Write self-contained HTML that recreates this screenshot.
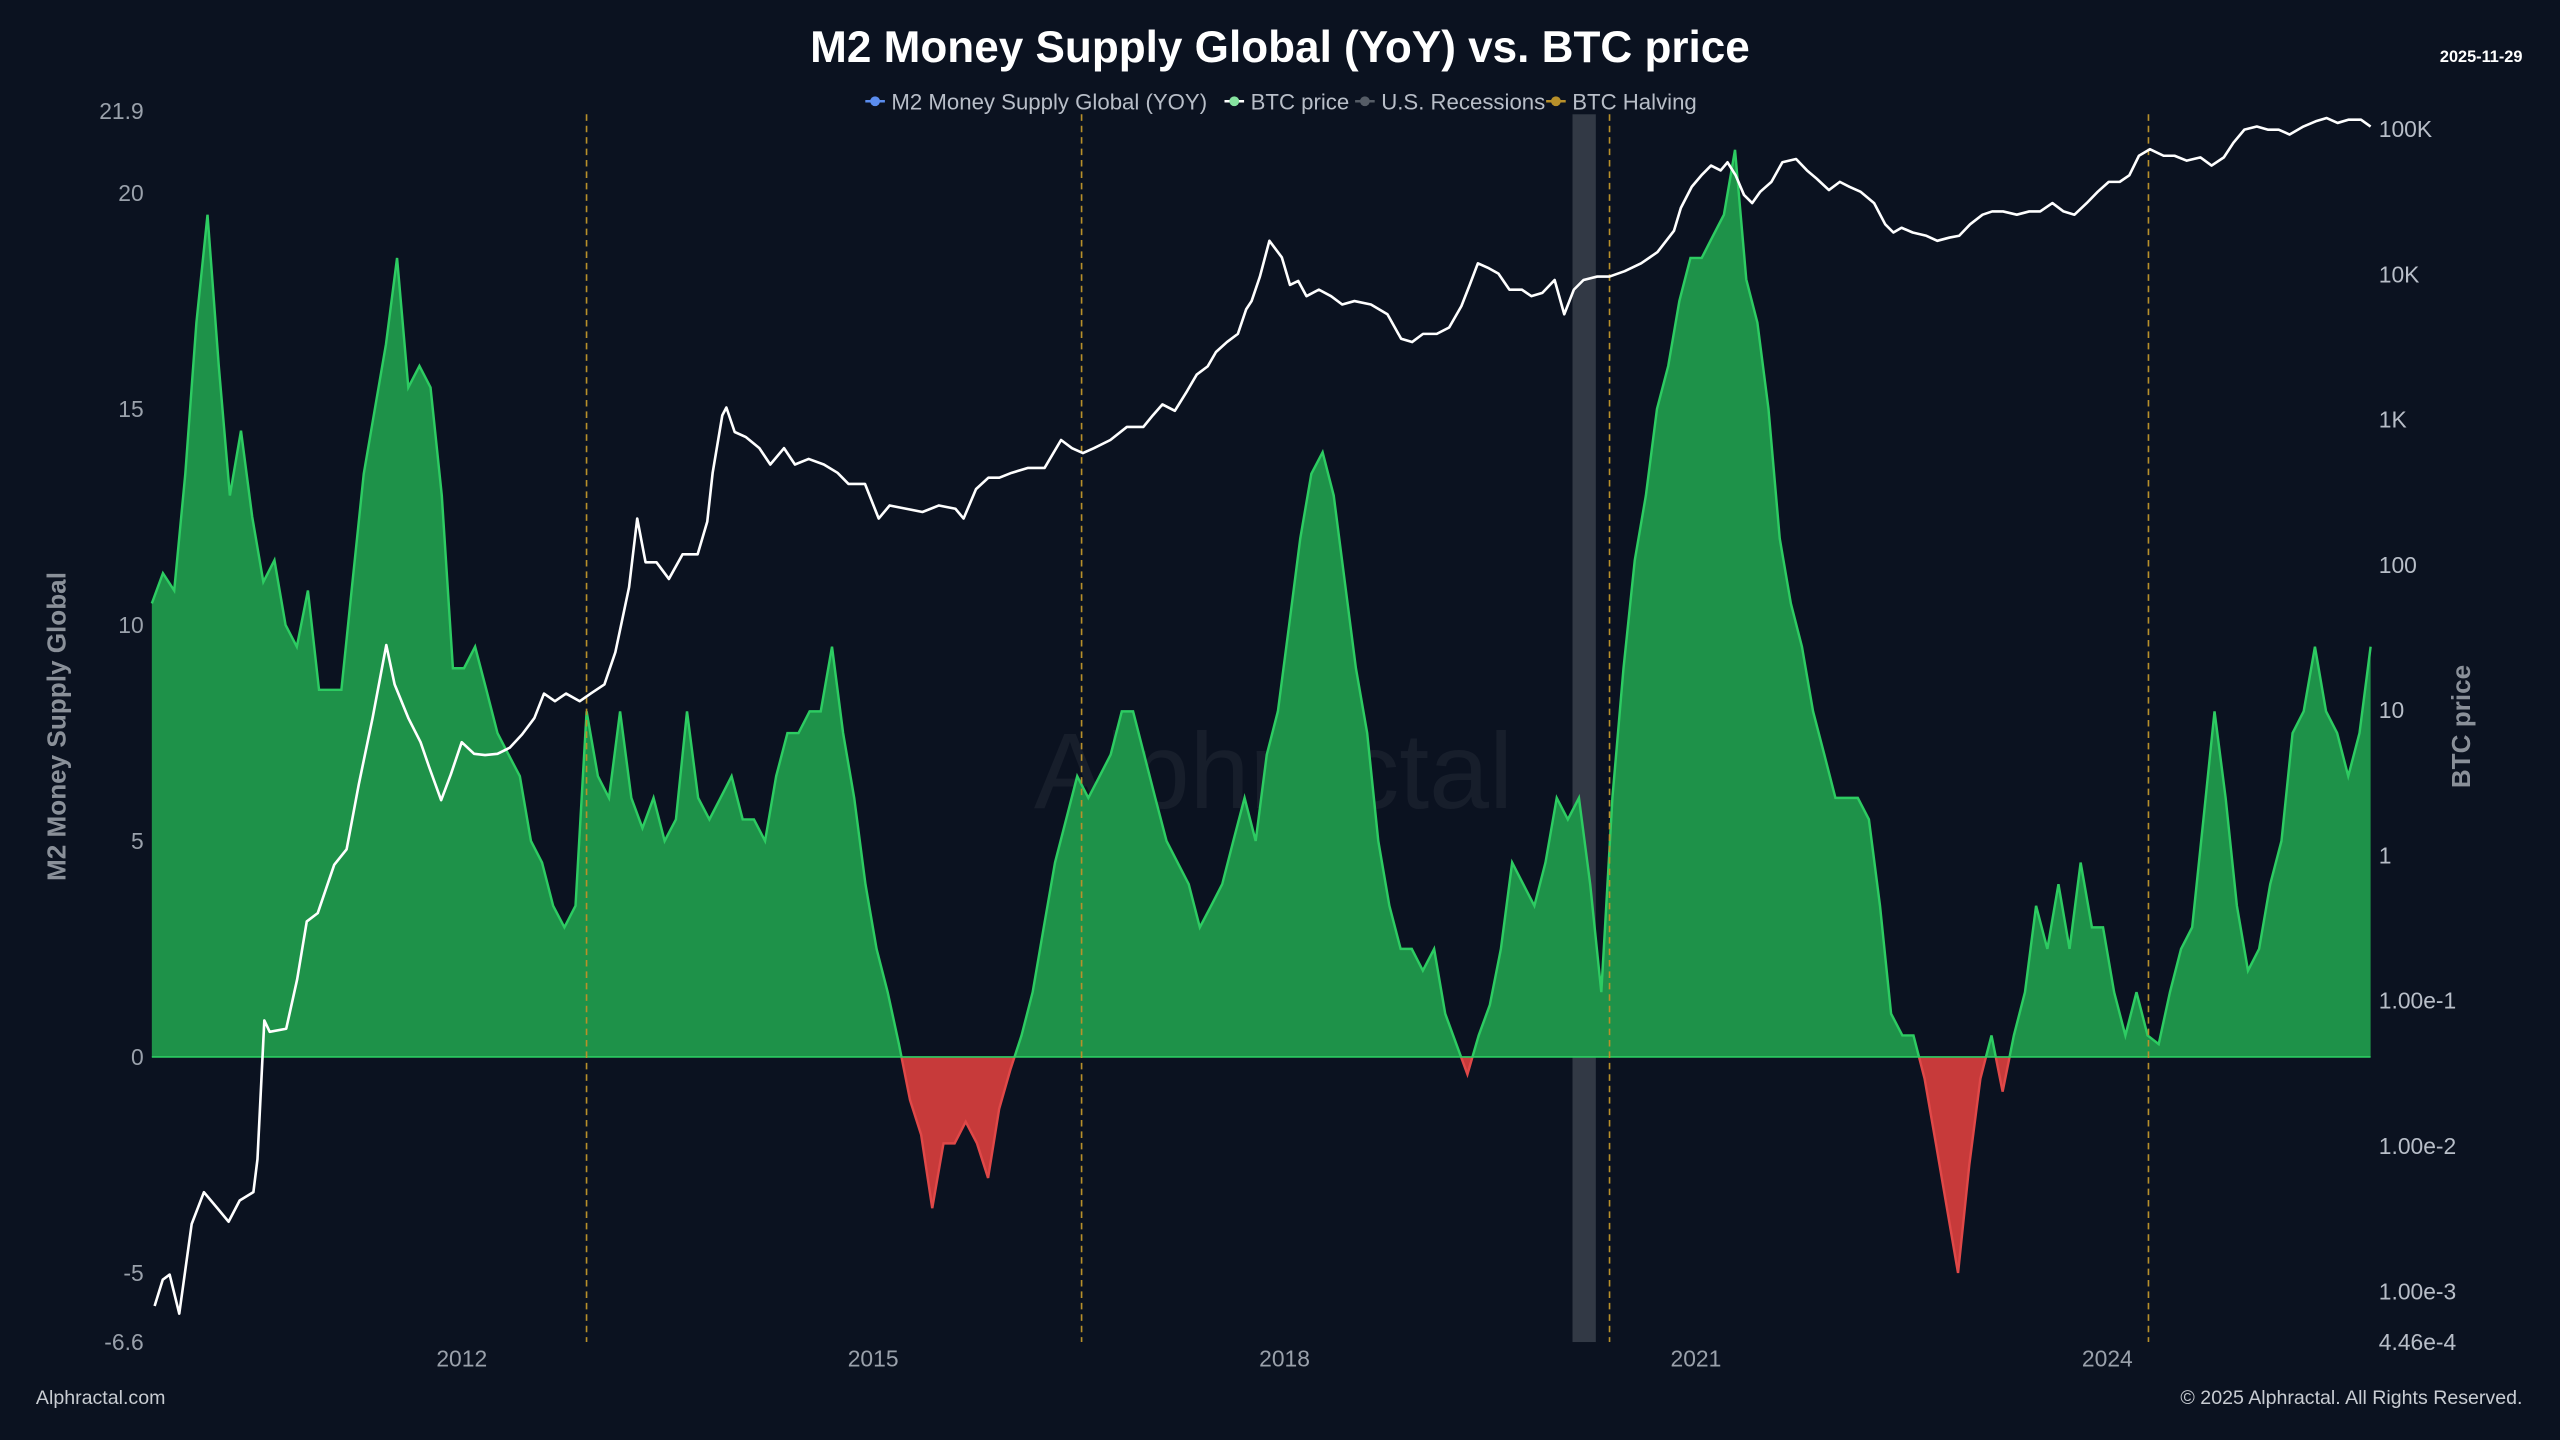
<!DOCTYPE html>
<html><head><meta charset="utf-8"><style>
html,body{margin:0;padding:0;background:#0b1220;}
svg{display:block;}
text{font-family:"Liberation Sans",sans-serif;}
</style></head><body>
<svg id="chart" width="2560" height="1440" viewBox="0 0 1568 882" xmlns="http://www.w3.org/2000/svg">
<rect x="0" y="0" width="1568" height="882" fill="#0b1220"/>
<text x="784" y="38" text-anchor="middle" font-size="27" font-weight="bold" fill="#ffffff">M2 Money Supply Global (YoY) vs. BTC price</text>
<text x="1545" y="38" text-anchor="end" font-size="10" font-weight="bold" fill="#ffffff">2025-11-29</text>
<g font-size="13.6" fill="#b8bec8">
 <g><line x1="530" y1="62" x2="542" y2="62" stroke="#5b8def" stroke-width="1.5"/><circle cx="536" cy="62" r="3" fill="#5b8def"/><text x="546" y="67">M2 Money Supply Global (YOY)</text></g>
 <g><line x1="750" y1="62" x2="762" y2="62" stroke="#ffffff" stroke-width="1.5"/><circle cx="756" cy="62" r="3" fill="#86e3a0"/><text x="766" y="67">BTC price</text></g>
 <g><line x1="830" y1="62" x2="842" y2="62" stroke="#555c66" stroke-width="1.5"/><circle cx="836" cy="62" r="3" fill="#555c66"/><text x="846" y="67">U.S. Recessions</text></g>
 <g><line x1="947" y1="62" x2="959" y2="62" stroke="#b8902a" stroke-width="1.5"/><circle cx="953" cy="62" r="3" fill="#b8902a"/><text x="963" y="67">BTC Halving</text></g>
</g>
<text x="780" y="495" text-anchor="middle" font-size="66" fill="#ffffff" fill-opacity="0.05">Alphractal</text>
<g id="plot"></g>
<text transform="translate(40,445) rotate(-90)" text-anchor="middle" font-size="16" font-weight="bold" fill="#8a9099">M2 Money Supply Global</text>
<text transform="translate(1513,445) rotate(-90)" text-anchor="middle" font-size="16" font-weight="bold" fill="#8a9099">BTC price</text>
<text x="22" y="860" font-size="12" fill="#c8ccd2">Alphractal.com</text>
<text x="1545" y="860" text-anchor="end" font-size="12" fill="#c8ccd2">© 2025 Alphractal. All Rights Reserved.</text>
</svg>
<script>
const m2Start = 2009.74;
const m2End = 2025.92;
const m2Values = [10.5,11.2,10.8,13.5,17,19.5,16,13,14.5,12.5,11,11.5,10,9.5,10.8,8.5,8.5,8.5,11,13.5,15,16.5,18.5,15.5,16,15.5,13,9,9,9.5,8.5,7.5,7,6.5,5,4.5,3.5,3,3.5,8,6.5,6,8,6,5.3,6,5,5.5,8,6,5.5,6,6.5,5.5,5.5,5,6.5,7.5,7.5,8,8,9.5,7.5,6,4,2.5,1.5,0.3,-1,-1.8,-3.5,-2,-2,-1.5,-2,-2.8,-1.2,-0.3,0.5,1.5,3,4.5,5.5,6.5,6,6.5,7,8,8,7,6,5,4.5,4,3,3.5,4,5,6,5,7,8,10,12,13.5,14,13,11,9,7.5,5,3.5,2.5,2.5,2,2.5,1,0.3,-0.4,0.5,1.2,2.5,4.5,4,3.5,4.5,6,5.5,6,4,1.5,6,9,11.5,13,15,16,17.5,18.5,18.5,19,19.5,21,18,17,15,12,10.5,9.5,8,7,6,6,6,5.5,3.5,1,0.5,0.5,-0.5,-2,-3.5,-5,-2.5,-0.5,0.5,-0.8,0.5,1.5,3.5,2.5,4,2.5,4.5,3,3,1.5,0.5,1.5,0.5,0.3,1.5,2.5,3,5.5,8,6,3.5,2,2.5,4,5,7.5,8,9.5,8,7.5,6.5,7.5,9.5];
const btcDates = [2009.76,2009.82,2009.87,2009.94,2010.03,2010.12,2010.22,2010.3,2010.38,2010.48,2010.51,2010.56,2010.6,2010.72,2010.8,2010.87,2010.95,2011.07,2011.16,2011.25,2011.35,2011.45,2011.51,2011.61,2011.7,2011.76,2011.85,2011.92,2012.0,2012.09,2012.17,2012.26,2012.35,2012.44,2012.53,2012.6,2012.68,2012.76,2012.86,2012.94,2013.04,2013.12,2013.22,2013.28,2013.34,2013.42,2013.51,2013.61,2013.72,2013.79,2013.83,2013.9,2013.93,2013.99,2014.07,2014.17,2014.25,2014.35,2014.43,2014.53,2014.64,2014.74,2014.82,2014.94,2015.04,2015.12,2015.24,2015.36,2015.48,2015.6,2015.66,2015.75,2015.84,2015.92,2016.01,2016.13,2016.25,2016.37,2016.45,2016.53,2016.61,2016.73,2016.85,2016.97,2017.04,2017.11,2017.2,2017.29,2017.36,2017.44,2017.5,2017.58,2017.66,2017.72,2017.76,2017.82,2017.89,2017.98,2018.04,2018.1,2018.16,2018.25,2018.34,2018.42,2018.51,2018.63,2018.75,2018.85,2018.93,2019.01,2019.11,2019.2,2019.29,2019.35,2019.41,2019.49,2019.56,2019.64,2019.73,2019.8,2019.88,2019.97,2020.04,2020.11,2020.18,2020.28,2020.37,2020.48,2020.6,2020.72,2020.84,2020.89,2020.97,2021.04,2021.11,2021.18,2021.23,2021.29,2021.35,2021.41,2021.47,2021.55,2021.63,2021.73,2021.81,2021.88,2021.97,2022.05,2022.12,2022.2,2022.3,2022.38,2022.44,2022.5,2022.58,2022.68,2022.76,2022.85,2022.92,2023.0,2023.09,2023.16,2023.24,2023.34,2023.43,2023.51,2023.6,2023.68,2023.76,2023.85,2023.93,2024.01,2024.09,2024.16,2024.23,2024.31,2024.41,2024.49,2024.58,2024.68,2024.76,2024.85,2024.92,2025.0,2025.09,2025.17,2025.25,2025.33,2025.43,2025.52,2025.6,2025.68,2025.76,2025.85,2025.92];
const btcPrices = [0.00079,0.0012,0.0013,0.0007,0.0029,0.0048,0.0037,0.003,0.0042,0.0048,0.0081,0.073,0.061,0.064,0.14,0.35,0.4,0.86,1.1,3.1,8.8,28,15,8.8,6,4.1,2.4,3.6,6,5,4.9,5,5.5,6.8,8.8,13,11.5,13,11.5,13,15,25,70,208,104,104,80,118,118,198,430,1070,1210,820,760,635,490,635,490,535,490,430,360,360,208,256,243,231,256,243,208,332,398,398,430,465,465,723,635,588,635,723,889,889,1070,1270,1150,1570,2040,2320,2920,3420,3890,5740,6540,9640,17000,13100,8460,9000,7060,7830,7060,6200,6540,6200,5300,3600,3420,3890,3890,4300,6040,8460,11900,11000,10100,7830,7830,7060,7450,9140,5300,7830,9140,9640,9640,10500,11900,14200,19900,28600,40000,48000,56100,51900,59000,48000,35200,30900,37000,43300,59000,62200,51900,45600,38000,43300,40000,37000,30900,22100,19400,20900,19400,18400,17000,17900,18400,22100,25700,27100,27100,25700,27100,27100,30900,27100,25700,30900,37000,43300,43300,48000,65500,72600,65500,65500,60600,63800,56100,63800,80500,99000,104000,99000,99000,91600,104000,113000,119000,110000,116000,116000,104000,89300];
const leftTicks = [21.9,20,15,10,5,0,-5,-6.6];
const leftTickLabels = ["21.9","20","15","10","5","0","-5","-6.6"];
const rightTicks = [100000,10000,1000,100,10,1,0.1,0.01,0.001,0.000446];
const rightTickLabels = ["100K","10K","1K","100","10","1","1.00e-1","1.00e-2","1.00e-3","4.46e-4"];
const xTicks = [2012,2015,2018,2021,2024];
const xTickLabels = ["2012","2015","2018","2021","2024"];
const halvings = [2012.91,2016.52,2020.37,2024.3];
const recessionStart = 2020.1;
const recessionEnd = 2020.27;

const NS = "http://www.w3.org/2000/svg";
const X0 = 93, X1 = 1452, T0 = 2009.74, T1 = 2025.92;
const YTOP = 68, YBOT = 822, VMAX = 21.9, VMIN = -6.6;
const LMAX = Math.log10(133000), LMIN = Math.log10(0.000446);
function xScale(t){ return X0 + (t - T0) / (T1 - T0) * (X1 - X0); }
function yLeft(v){ return YTOP + (VMAX - v) / (VMAX - VMIN) * (YBOT - YTOP); }
function yRight(p){ return YTOP + (LMAX - Math.log10(p)) / (LMAX - LMIN) * (YBOT - YTOP); }
function mk(tag, attrs, parent){ const e = document.createElementNS(NS, tag); for (const k in attrs) e.setAttribute(k, attrs[k]); parent.appendChild(e); return e; }

const plot = document.getElementById('plot');
const defs = mk('defs', {}, plot);
const y0 = yLeft(0);
const cpPos = mk('clipPath', {id:'cpPos'}, defs);
mk('rect', {x:0, y:0, width:1568, height:y0}, cpPos);
const cpNeg = mk('clipPath', {id:'cpNeg'}, defs);
mk('rect', {x:0, y:y0, width:1568, height:882 - y0}, cpNeg);

const rec = mk('rect', {x:xScale(recessionStart), y:70, width:xScale(recessionEnd)-xScale(recessionStart), height:752, fill:'#3a414c', 'fill-opacity':'0.85'}, plot);



const n = m2Values.length;
const pts = m2Values.map((v, i) => [xScale(m2Start + (m2End - m2Start) * i / (n - 1)), yLeft(v)]);
let line = pts.map((p, i) => (i ? 'L' : 'M') + p[0].toFixed(1) + ',' + p[1].toFixed(1)).join('');
const area = line + 'L' + pts[n-1][0].toFixed(1) + ',' + y0 + 'L' + pts[0][0].toFixed(1) + ',' + y0 + 'Z';
const gPos = mk('g', {'clip-path':'url(#cpPos)'}, plot);


mk('path', {d:area, fill:'#1e9249'}, gPos);
mk('path', {d:line, fill:'none', stroke:'#2dcc62', 'stroke-width':'1.5'}, gPos);
const gNeg = mk('g', {'clip-path':'url(#cpNeg)'}, plot);


mk('path', {d:area, fill:'#c73a3a'}, gNeg);
mk('path', {d:line, fill:'none', stroke:'#e04848', 'stroke-width':'1.5'}, gNeg);
const zl = mk('line', {x1:X0, x2:X1, y1:y0, y2:y0, stroke:'#2dcc62', 'stroke-width':'1'}, plot);



halvings.forEach(h => {
  const l = mk('line', {x1:xScale(h), x2:xScale(h), y1:70, y2:822, stroke:'#b8902a', 'stroke-width':'1', 'stroke-dasharray':'4,3'}, plot);
  
  
});

const bd = btcDates.map((t, i) => (i ? 'L' : 'M') + xScale(t).toFixed(1) + ',' + yRight(btcPrices[i]).toFixed(1)).join('');
const bl = mk('path', {d:bd, fill:'none', stroke:'#ffffff', 'stroke-width':'1.6', 'stroke-linejoin':'round'}, plot);



leftTicks.forEach((v, i) => {
  const t = mk('text', {x:88, y:yLeft(v) + 5, 'text-anchor':'end', 'font-size':'14', fill:'#9aa1ab'}, plot);
  t.textContent = leftTickLabels[i];
  
  
});
rightTicks.forEach((v, i) => {
  const t = mk('text', {x:1457, y:yRight(v) + 5, 'font-size':'14', fill:'#b8bec8'}, plot);
  t.textContent = rightTickLabels[i];
  
  
});
xTicks.forEach((v, i) => {
  const t = mk('text', {x:xScale(v), y:837, 'text-anchor':'middle', 'font-size':'14', fill:'#9aa1ab'}, plot);
  t.textContent = xTickLabels[i];
  
  
});
</script>
</body></html>
